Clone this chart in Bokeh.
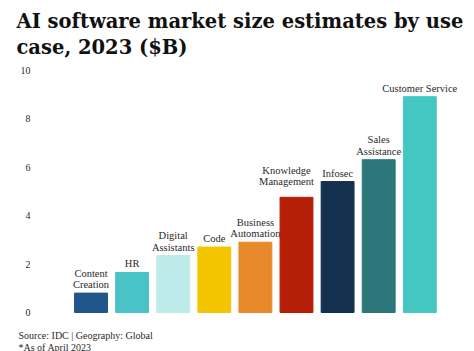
from bokeh.plotting import figure
from bokeh.models import Range1d, Label, ColumnDataSource
from bokeh.core.properties import value
from bokeh.embed import file_html
from bokeh.resources import INLINE

categories = ["Content Creation", "HR", "Digital Assistants", "Code", "Business Automation",
              "Knowledge Management", "Infosec", "Sales Assistance", "Customer Service"]
labels = ["Content\nCreation", "HR", "Digital\nAssistants", "Code", "Business\nAutomation",
          "Knowledge\nManagement", "Infosec", "Sales\nAssistance", "Customer Service"]
values = [0.8, 1.65, 2.35, 2.7, 2.9, 4.75, 5.4, 6.3, 8.9]
colors = ["#1F578A", "#49C3C8", "#BDEBEA", "#F2C500", "#E8892C",
          "#B51F08", "#14314F", "#2B7779", "#45C7C1"]
y_ticks = [0, 2, 4, 6, 8, 10]
y_tick_labels = ["0", "2", "4", "6", "8", "10"]
title_lines = ["AI software market size estimates by use", "case, 2023 ($B)"]
footer_lines = ["Source: IDC | Geography: Global", "*As of April 2023"]

SERIF = "Liberation Serif"
W, H = 474, 351

# layout (pixels): value 0 at canvas y=312, value 10 at y=69.5; bar pitch 41.1 px, first centre 90.5 px
PX_PER_UNIT_Y = (312 - 69.5) / 10
PX_PER_BAR = 41.1
X0 = -90.5 / PX_PER_BAR
Y0 = -(H - 312) / PX_PER_UNIT_Y

# label placement tweaks (style only)
label_dx = {"Knowledge Management": -10}
label_dy = {"Knowledge Management": -7}

xpos = list(range(len(categories)))
src = ColumnDataSource(dict(x=xpos, cat=categories, val=values, color=colors, label=labels,
                            dx=[label_dx.get(c, 0) for c in categories],
                            dy=[-3 + label_dy.get(c, 0) for c in categories]))

p = figure(width=W, height=H,
           x_range=Range1d(X0, X0 + W / PX_PER_BAR),
           y_range=Range1d(Y0, Y0 + H / PX_PER_UNIT_Y),
           output_backend="svg", toolbar_location=None,
           min_border_left=0, min_border_right=0, min_border_top=0, min_border_bottom=0)

p.vbar(x="x", top="val", width=0.8, color="color", source=src)
p.text(x="x", y="val", text="label", source=src, text_align="center",
       text_baseline="bottom", x_offset="dx", y_offset="dy", text_font=value(SERIF),
       text_font_size="10.5px", text_color="#2a2a2a", text_line_height=1.05,
       level="overlay")

# value-axis labels, placed through the y scale
tick_x = X0 + 30 / PX_PER_BAR
p.text(x=[tick_x] * len(y_ticks), y=y_ticks, text=y_tick_labels, text_align="right",
       text_baseline="middle", text_font=value(SERIF), text_font_size="10px",
       text_color="#2a2a2a")

p.xaxis.visible = False
p.yaxis.visible = False
p.xgrid.visible = False
p.ygrid.visible = False
p.outline_line_color = None

# screen units are measured from the frame's bottom-left, which is the canvas corner here
for i, t in enumerate(title_lines):
    p.add_layout(Label(x=16, y=H - (20.7 + 26 * i), x_units="screen", y_units="screen",
                       text=t, text_font="DejaVu Serif", text_font_size="19.5px",
                       text_font_style="bold", text_color="#111111",
                       text_baseline="alphabetic", text_align="left"))
for i, t in enumerate(footer_lines):
    p.add_layout(Label(x=18, y=H - (335 + 11.5 * i), x_units="screen", y_units="screen",
                       text=t, text_font=SERIF, text_font_size="10px",
                       text_color="#2a2a2a", text_baseline="alphabetic", text_align="left"))

open("out.html", "w").write(file_html(p, INLINE))
